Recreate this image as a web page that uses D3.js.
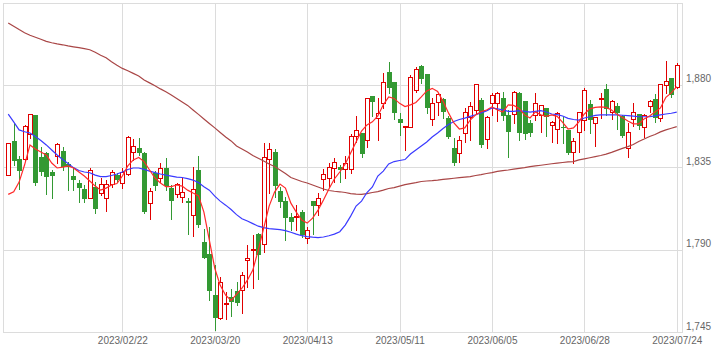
<!DOCTYPE html>
<html>
<head>
<meta charset="utf-8">
<script src="https://cdn.jsdelivr.net/npm/d3@7"></script>
<style>
  body { margin: 0; background: #fff; }
  #chart text { font-family: "Liberation Sans", Arial, sans-serif; font-size: 10px; fill: #666; }
</style>
</head>
<body>
<div id="chart"></div>
<script>
// daily candles, index 0 .. 123 (last = 2023/07/24)
const open = [1830.7,1849.3,1839.3,1839.3,1853,1863.6,1840.8,1842.6,1832.6,1841.3,1844,1836.6,1830.2,1826.2,1822.9,1818.3,1824,1821.1,1818,1825.7,
  1830.7,1826.2,1831.3,1843.5,1845.4,1842.6,1815.2,1832,1829.3,1834.4,1823.5,1820.2,1818.9,1816.7,1808.8,1833.5,1794.2,1787.5,1765,1752.9,
  1760.2,1764.1,1767.3,1768.2,1784.2,1789.8,1798.4,1792.8,1839.3,1843.5,1822,1816.5,1807.6,1808.1,1810.7,1796.1,1816.5,1814.3,1828.4,1828.9,
  1834.4,1835.3,1833.9,1833.9,1852.1,1853.6,1849.9,1874,1861.8,1870.3,1886.9,1881.5,1861.2,1857.0,1857.2,1877.3,1890.4,1885.9,1861.2,1870.5,
  1872.3,1862.1,1845.4,1843,1853.9,1862.7,1866.3,1871.8,1850.3,1870,1870,1872.7,1863.6,1864.1,1875.5,1871.2,1859,1863.6,1863.6,1867.6,
  1858.1,1855.8,1857.2,1855.4,1843.5,1854.1,1860.8,1869.4,1859,1872.6,1877.8,1865.1,1868.7,1863.2,1845.4,1861.2,1864,1857.2,1868.7,1872.3,
  1861.8,1880,1883.7,1879.1];
const high = [1848.5,1859,1841.1,1858,1864.2,1863.8,1846.2,1843.5,1833.5,1848.4,1846.2,1838,1835.3,1828,1825.3,1834.6,1827.1,1829,1828,1833.5,
  1832,1834.8,1852.1,1850.3,1850.8,1843.5,1823.5,1832.9,1837.1,1840.2,1825.3,1826.2,1828.9,1818,1835.3,1841.1,1801.5,1802.4,1781.5,1774.8,
  1766.9,1768.7,1772.3,1777.8,1792.4,1797.9,1799,1848.4,1848.1,1844.8,1824.3,1818.9,1809.8,1814.3,1811.6,1802.4,1816.5,1821,1833.9,1837.1,
  1839.9,1836.2,1841.1,1853,1863.2,1853.6,1873.1,1874,1872.7,1886.4,1892.4,1881.5,1864.5,1857.6,1885.4,1890,1891,1885.9,1872.7,1875.5,
  1873.1,1863,1850.8,1852.1,1867.6,1870.9,1880.4,1873.1,1863,1875.5,1876,1876.3,1866.3,1876.9,1876.3,1871.2,1860.8,1875.5,1869.1,1867.6,
  1860.3,1865.4,1862.7,1855.4,1850.8,1865.1,1878.2,1871.8,1862.3,1875.5,1880.4,1871.8,1870,1863.6,1859,1870,1864,1864,1871.8,1874.9,
  1880.4,1893.1,1883.7,1891.9];
const low = [1830.5,1836.2,1823,1838.8,1851,1825.3,1830.7,1820.3,1818,1837.1,1833.5,1822.5,1822.5,1816.1,1816.1,1818.2,1809.8,1819.8,1811,1824.3,
  1827.1,1823.5,1830.7,1839,1841.7,1810,1806.5,1822.5,1827.1,1822.5,1807,1818.5,1816.1,1798.8,1797.4,1802.4,1785.2,1762.3,1745.9,1752.1,
  1752.3,1754,1759.5,1755.4,1769.6,1769.3,1774.2,1788.8,1820.7,1818.9,1813.1,1795.2,1800.6,1800.6,1797,1793.7,1798.8,1808.8,1822.5,1824.3,
  1827.1,1827.1,1829,1832,1849,1840.8,1846.2,1863.2,1849.9,1867.2,1875.5,1861.4,1852.6,1844.4,1856.8,1876.3,1880.9,1864.5,1858.1,1863.6,
  1861.8,1850.8,1836.2,1838,1849,1849.9,1864.5,1845.9,1845.4,1863.6,1860.3,1860.8,1840.8,1859,1849.9,1850.4,1852.1,1860.8,1854.4,1852.1,
  1849,1848.1,1848.4,1842.5,1837.1,1843.5,1855.4,1853.6,1846.8,1861.8,1863.6,1861.4,1855.9,1851.7,1840.8,1857.7,1855.9,1851.7,1865.4,1859.9,
  1860.3,1875.5,1873.6,1878.5];
const close = [1848.1,1838.4,1833.1,1857.6,1864,1826.5,1832.6,1829.5,1830.2,1847.5,1835.3,1835.3,1828,1823.8,1817.6,1833.5,1812,1825.7,1825.7,1832.2,
  1828,1832.6,1851.4,1846.6,1843,1810.7,1822,1824.7,1834.4,1824.7,1816.7,1825.7,1821.3,1815.2,1822.9,1803.4,1785.5,1767.2,1752.9,1772.3,
  1760.6,1761.4,1761.1,1776.4,1785.2,1790.1,1787,1840.4,1844.8,1824.7,1816.1,1807.4,1805.2,1808.5,1797.9,1800.6,1814,1818.3,1831.1,1834.9,
  1837.7,1833.5,1837.1,1852.3,1855.4,1842.1,1873.1,1870.9,1864.5,1881.8,1878.2,1864.5,1859,1857.4,1884.5,1888.8,1883.3,1867.6,1870.3,1874.9,
  1865.1,1851.7,1837.5,1849.9,1865.1,1868.7,1880.4,1847.2,1862.3,1874.5,1875.5,1863.2,1854.4,1876,1853.6,1853.2,1853.9,1870,1869.1,1862.3,
  1859.9,1864.5,1856.7,1843,1849.5,1865.1,1877.3,1860.8,1862.3,1872.9,1866.9,1871.4,1864.5,1852.3,1854.1,1865.1,1857.7,1863.6,1871.4,1861.8,
  1880.4,1882.2,1874.5,1890.9];

// moving averages
const maShort = [1820.2,1821.6,1826.9,1836.2,1847.2,1845,1843.3,1841.7,1837.3,1834.6,1835.1,1835.7,1834.6,1832.4,1830.2,1827.5,1824.7,1822.5,1823.6,1825.3,
  1826.1,1830.2,1835.7,1839,1840.3,1838.1,1833.5,1829.1,1826.4,1824.4,1824.4,1825.3,1824.7,1822.5,1820.9,1819.5,1810.5,1795.2,1779.8,1770.5,
  1765.1,1762.3,1765.6,1768.9,1773.3,1778.8,1789.7,1801.7,1813.8,1821.4,1825.8,1823.6,1815.4,1810.5,1806.1,1804.5,1807.2,1811.6,1817.1,1823.1,
  1828.6,1832.4,1836.8,1842.8,1848.8,1854.8,1858.1,1859.8,1863,1869.1,1873.4,1872.6,1869.9,1868.2,1869.1,1870.4,1873.4,1876.7,1878.1,1876.4,
  1871,1864.7,1859.2,1855.9,1856.5,1860.8,1863.6,1865.4,1866.3,1868,1866.3,1865.2,1869.1,1868.8,1867.1,1863.6,1861.9,1865.2,1863.6,1862.8,
  1863.6,1862.8,1859.5,1855.9,1856.5,1859.8,1864.1,1866.9,1867.7,1868,1867.7,1866.3,1863.9,1862.2,1860.3,1858.7,1858.7,1861.4,1863,1865.2,
  1867.4,1873.2,1875.6,1879.1];
const maMid = [1864,1859.8,1855.4,1854.4,1853.7,1851.8,1849.6,1847.2,1844.4,1841.7,1839.2,1837,1834.8,1833.2,1832.4,1832,1830.7,1829.9,1829.9,1830.5,
  1831.3,1832.4,1833.8,1834.6,1834.6,1833.8,1832.9,1832.1,1831.3,1830.7,1830.2,1829.6,1829.4,1828.8,1828,1826.6,1824.4,1822.5,1819.2,1816.5,
  1814.3,1811.9,1809.1,1806.9,1805.6,1804.2,1802.8,1802,1801.5,1801.2,1800.9,1800.4,1799.5,1798.5,1797.6,1797.1,1796.8,1796.6,1796.9,1797.6,
  1798.5,1799.8,1803.4,1808.3,1813.8,1816.5,1821.2,1824.2,1830.2,1832.9,1836.8,1838.1,1838.7,1839.2,1842.2,1844.4,1846.6,1848.8,1851.5,1853.7,
  1856.2,1858.4,1860,1861.1,1861.8,1862.8,1863.7,1864.7,1865.8,1867.4,1866.9,1866.3,1865.5,1865.5,1865.9,1865.5,1865.1,1865.5,1865.9,1865.2,
  1864.1,1863.7,1863,1861.7,1861.1,1860.8,1861.9,1862.6,1863.3,1863.6,1863.6,1863.6,1863.6,1863.4,1863.2,1862.9,1862.6,1862.6,1862.6,1863.1,
  1863.6,1864.1,1864.5,1865.1];
const maLong = [1913.8,1912,1910.2,1908.5,1907.1,1906,1904.9,1903.8,1903,1902.4,1901.9,1901.3,1900.8,1900.3,1899.8,1899.2,1897.8,1896.2,1894.8,1892.6,
  1890.7,1889,1887.7,1886.3,1884.9,1882.7,1881.1,1879.5,1877.8,1876.2,1874.5,1872.6,1870.7,1868.8,1866.3,1863.9,1861.4,1858.9,1856.5,1854,
  1851.5,1849.4,1846.6,1845,1843.3,1841.4,1839.9,1838.4,1836.8,1835.4,1833.5,1831.6,1829.4,1828.3,1827.2,1826.4,1825.3,1824.2,1823.1,1822.3,
  1821.9,1821.6,1821.2,1820.6,1820.3,1820.2,1820.6,1821.2,1821.7,1822.5,1823.4,1823.9,1824.7,1825.5,1826.1,1826.6,1827.2,1827.5,1827.7,1828,
  1828.4,1828.7,1829,1829.3,1829.6,1829.9,1830.5,1831,1831.6,1832.1,1832.7,1833.2,1833.5,1834,1834.4,1834.8,1835.3,1835.7,1836.1,1836.5,
  1836.9,1837.3,1837.6,1837.9,1838.1,1839,1839.6,1840.2,1840.8,1841.4,1842.2,1843.1,1844.2,1845.3,1846.3,1847.4,1849.1,1850.4,1851.8,1852.9,
  1854.3,1855.4,1856.3,1857.2];

const tickIdx = [21, 38, 55, 72, 89, 106, 123];
const tickLabels = ['2023/02/22', '2023/03/20', '2023/04/13', '2023/05/11', '2023/06/05', '2023/06/28', '2023/07/24'];
const yTicks = [1745, 1790, 1835, 1880];

const width = 719, height = 352;
const plotLeft = 3, plotRight = 682, plotTop = 2.5, plotBottom = 332;

const svg = d3.select('#chart')
  .append('svg')
  .attr('width', width)
  .attr('height', height);

const x = d3.scalePoint()
  .domain(d3.range(open.length))
  .range([plotLeft, plotRight])
  .padding(0.965);
const y = d3.scaleLinear().domain([1745, 1925]).range([plotBottom, plotTop]);

const px = i => Math.round(x(i)) + 0.5;
const py = v => Math.round(y(v)) + 0.5;

// grid
const grid = svg.append('g').attr('stroke', '#dcdcdc').attr('stroke-width', 1).attr('shape-rendering', 'crispEdges');
grid.selectAll('.hg')
  .data(yTicks.slice(1))
  .enter().append('line')
  .attr('x1', plotLeft + 0.5).attr('x2', plotRight + 0.5)
  .attr('y1', d => py(d)).attr('y2', d => py(d));
grid.selectAll('.vg')
  .data(tickIdx)
  .enter().append('line')
  .attr('x1', d => px(d)).attr('x2', d => px(d))
  .attr('y1', plotTop + 0.5).attr('y2', plotBottom + 0.5);
grid.append('rect')
  .attr('x', plotLeft + 0.5).attr('y', plotTop + 0.5)
  .attr('width', plotRight - plotLeft).attr('height', plotBottom - plotTop)
  .attr('fill', 'none');

// candles
const up = '#e00000', down = '#339933';
const candles = svg.append('g');
const c = candles.selectAll('g')
  .data(d3.range(open.length))
  .enter().append('g');

c.append('line')
  .attr('shape-rendering', 'crispEdges')
  .attr('x1', i => px(i)).attr('x2', i => px(i))
  .attr('y1', i => Math.round(y(high[i])))
  .attr('y2', i => Math.round(y(low[i])) + 1)
  .attr('stroke', i => close[i] >= open[i] ? up : down)
  .attr('stroke-width', 1);

c.append('rect')
  .attr('shape-rendering', 'crispEdges')
  .attr('x', i => close[i] >= open[i] ? px(i) - 2 : px(i) - 2.5)
  .attr('width', i => close[i] >= open[i] ? 4 : 5)
  .attr('y', i => {
    const t = Math.round(y(Math.max(open[i], close[i])));
    return close[i] >= open[i] ? t + 0.5 : t;
  })
  .attr('height', i => {
    const t = Math.round(y(Math.max(open[i], close[i])));
    const b = Math.round(y(Math.min(open[i], close[i])));
    return Math.max(1, b - t);
  })
  .attr('fill', i => close[i] >= open[i] ? '#fff' : down)
  .attr('stroke', i => close[i] >= open[i] ? up : 'none')
  .attr('stroke-width', 1.3);

// moving averages
const line = d3.line().x((d, i) => x(i)).y(d => y(d));
[[maLong, '#a94646'], [maMid, '#3a3aff'], [maShort, '#ff2a2a']].forEach(([vals, col]) => {
  svg.append('path')
    .datum(vals)
    .attr('fill', 'none')
    .attr('stroke', col)
    .attr('stroke-width', 1.2)
    .attr('d', line);
});

// axes labels
const yAxis = svg.append('g')
  .attr('transform', `translate(${plotRight + 4},0)`)
  .call(d3.axisRight(y).tickValues(yTicks).tickFormat(d3.format(',')).tickSize(0).tickPadding(0));
yAxis.select('.domain').remove();
yAxis.selectAll('text').attr('dy', null).attr('y', -3).attr('text-anchor', 'start');

const xAxis = svg.append('g')
  .attr('transform', `translate(0,${plotBottom})`)
  .call(d3.axisBottom(x).tickValues(tickIdx).tickFormat((d, i) => tickLabels[i]).tickSize(0).tickPadding(0));
xAxis.select('.domain').remove();
xAxis.selectAll('text').attr('dy', null).attr('y', 12);
</script>
</body>
</html>
